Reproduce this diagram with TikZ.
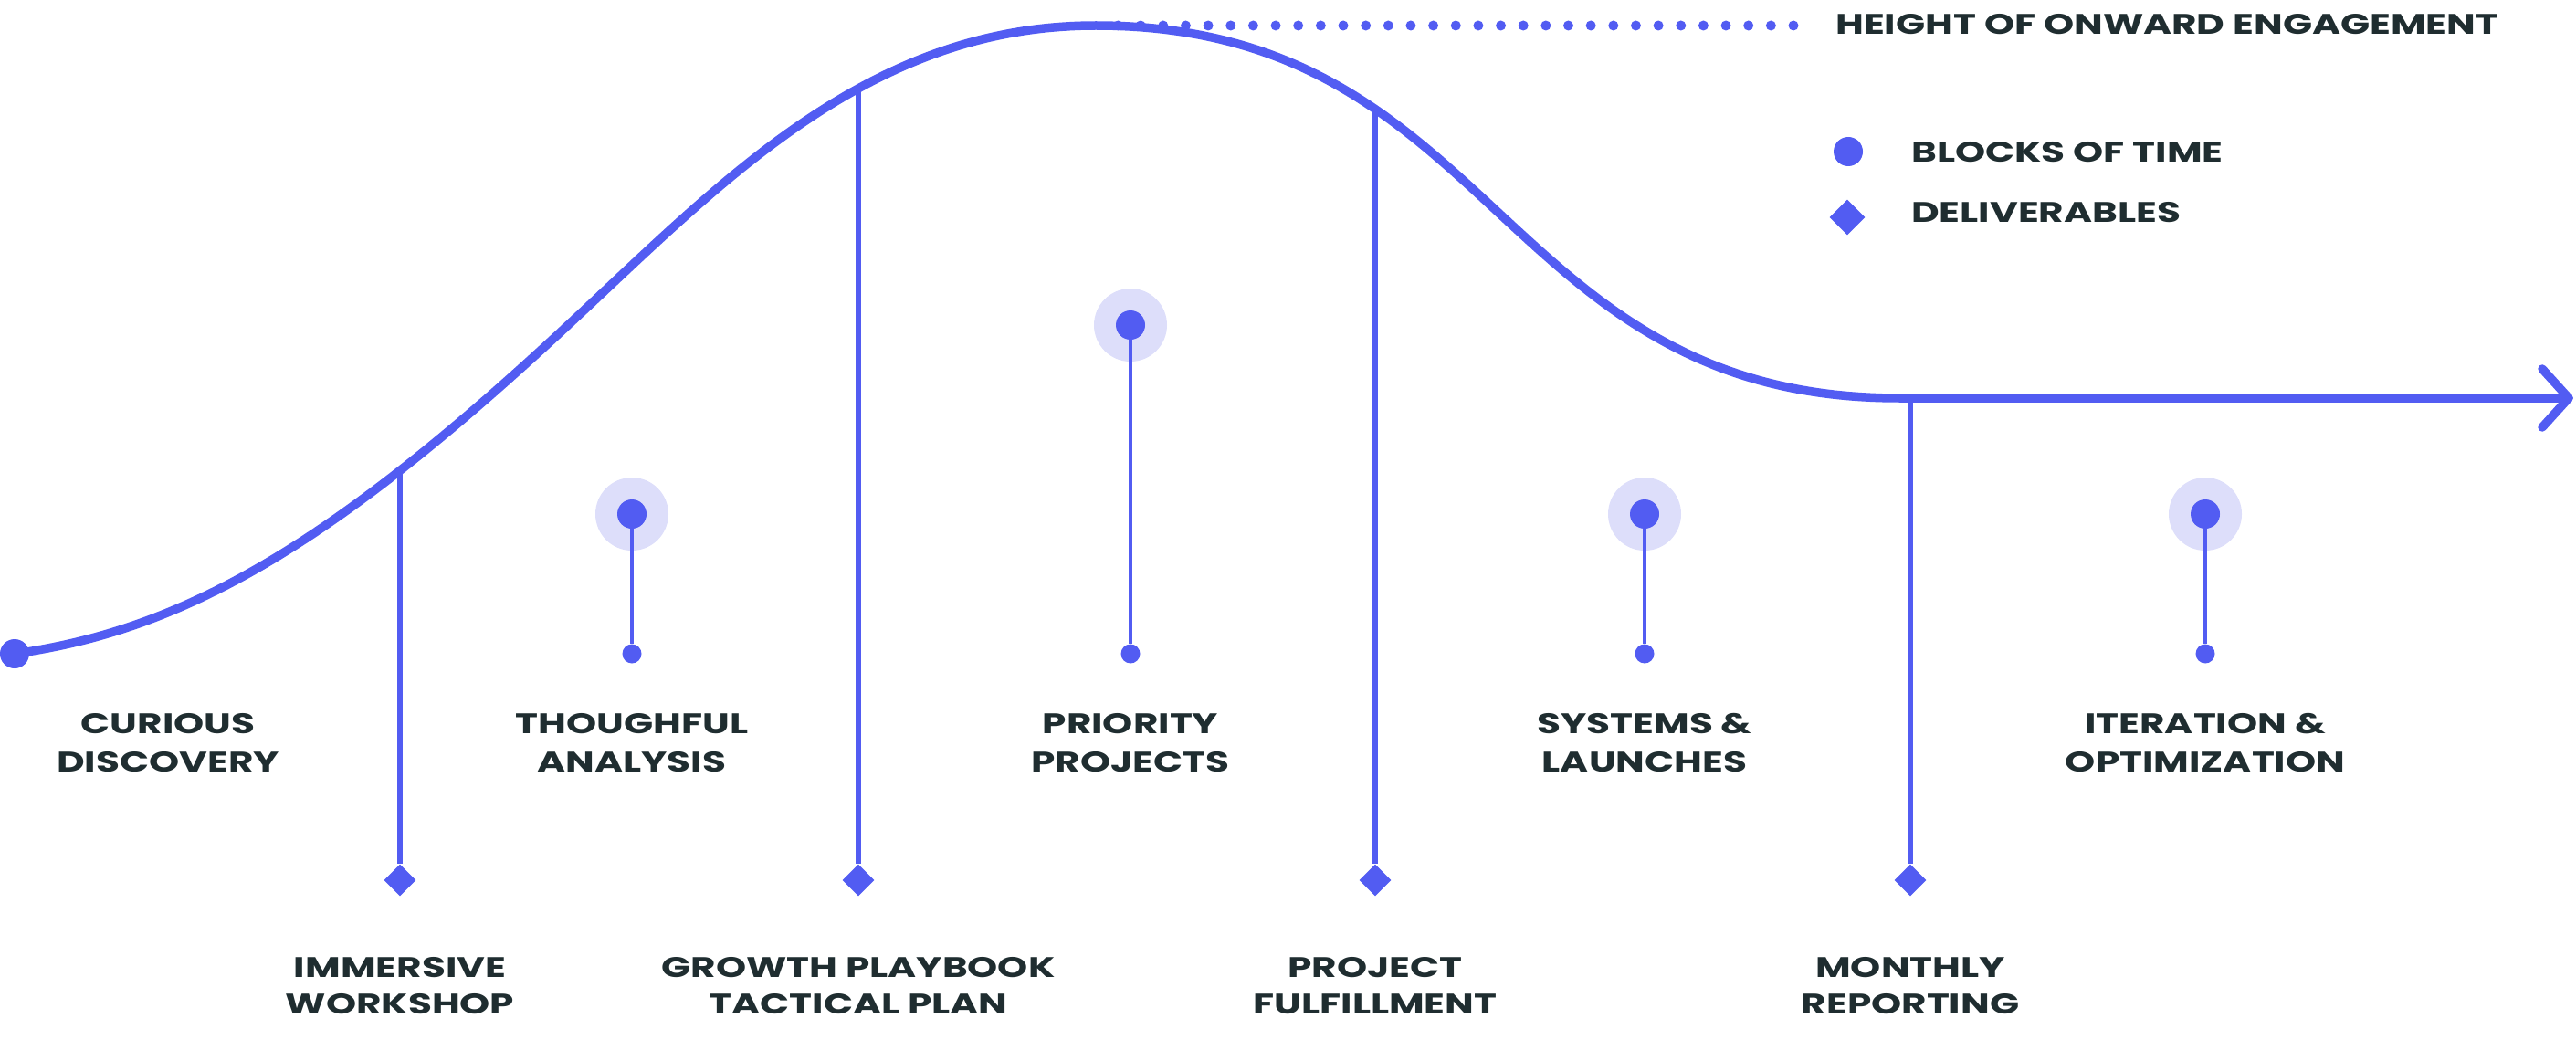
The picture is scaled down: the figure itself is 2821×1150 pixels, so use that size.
\documentclass[tikz,border=0pt]{standalone}
\usepackage{fontspec}
\setmainfont{Poppins}[FakeStretch=1.36]
\usepackage{tikz}
\usetikzlibrary{shapes.geometric}

\definecolor{curveblue}{RGB}{82,92,242}
\definecolor{halolav}{RGB}{221,222,250}
\definecolor{ink}{RGB}{31,45,48}

\tikzset{
	curve/.style={draw=curveblue, line width=9.5pt, line cap=round, line join=round},
	heightdots/.style={draw=curveblue, line width=11pt, line cap=round, dash pattern=on 0pt off 24.65pt},
	deliverline/.style={draw=curveblue, line width=5.5pt},
	blockline/.style={draw=curveblue, line width=4.5pt},
	halo/.style={circle, fill=halolav, minimum size=80pt, inner sep=0pt},
	blockdot/.style={circle, fill=curveblue, minimum size=32pt, inner sep=0pt},
	enddot/.style={circle, fill=curveblue, minimum size=21pt, inner sep=0pt},
	deliverable/.style={diamond, fill=curveblue, minimum size=35pt, inner sep=0pt},
	phase/.style={font=\fontsize{31}{42}\selectfont\bfseries, text=ink, align=center, inner sep=0pt},
	outcome/.style={font=\fontsize{31}{40}\selectfont\bfseries, text=ink, align=center, inner sep=0pt},
	keytext/.style={font=\fontsize{31}{40}\selectfont\bfseries, text=ink, anchor=west, inner sep=0pt}
}

\begin{document}
\begin{tikzpicture}[x=1pt,y=-1pt]

	\useasboundingbox (0,0) rectangle (2821,1150);

	\coordinate (start) at (16,716);
	\coordinate (peak) at (1200,28);
	\coordinate (settle) at (2080,436);
	\coordinate (tip) at (2813,436);
	\coordinate (dotend) at (1964,28);

	% height of engagement
	\draw[heightdots] (dotend) -- (peak);
	\node[keytext] (height) at (2010,27) {HEIGHT OF ONWARD ENGAGEMENT};

	% deliverables hang from the curve
	\coordinate (immersivetop) at (438,515);
	\coordinate (playbooktop) at (940,97);
	\coordinate (fulfiltop) at (1506,120);
	\coordinate (reportingtop) at (2092,436);

	\node[deliverable] (immersive) at (438,964) {};
	\node[deliverable] (playbook) at (940,964) {};
	\node[deliverable] (fulfil) at (1506,964) {};
	\node[deliverable] (reporting) at (2092,964) {};

	\draw[deliverline] (immersivetop) -- (immersive);
	\draw[deliverline] (playbooktop) -- (playbook);
	\draw[deliverline] (fulfiltop) -- (fulfil);
	\draw[deliverline] (reportingtop) -- (reporting);

	% the curve
	\draw[curve] (start) .. controls (200,690) and (360,600) .. (620,358)
		.. controls (790,200) and (950,28) .. (peak)
		.. controls (1640,28) and (1640,436) .. (settle) -- (tip);
	\draw[curve] (2784,404) -- (tip) -- (2784,468);
	\node[blockdot] (origin) at (start) {};

	% blocks of time
	\node[halo] at (692,563) {};
	\node[blockdot] (thoughtful) at (692,563) {};
	\node[enddot] (thoughtfulend) at (692,716) {};
	\draw[blockline] (thoughtful) -- (thoughtfulend);

	\node[halo] at (1238,356) {};
	\node[blockdot] (priority) at (1238,356) {};
	\node[enddot] (priorityend) at (1238,716) {};
	\draw[blockline] (priority) -- (priorityend);

	\node[halo] at (1801,563) {};
	\node[blockdot] (systems) at (1801,563) {};
	\node[enddot] (systemsend) at (1801,716) {};
	\draw[blockline] (systems) -- (systemsend);

	\node[halo] at (2415,563) {};
	\node[blockdot] (iteration) at (2415,563) {};
	\node[enddot] (iterationend) at (2415,716) {};
	\draw[blockline] (iteration) -- (iterationend);

	% phase labels
	\node[phase] (curiouslabel) at (184,814) {CURIOUS\\DISCOVERY};
	\node[phase] (thoughtfullabel) at (692,814) {THOUGHFUL\\ANALYSIS};
	\node[phase] (prioritylabel) at (1238,814) {PRIORITY\\PROJECTS};
	\node[phase] (systemslabel) at (1801,814) {SYSTEMS \&\\LAUNCHES};
	\node[phase] (iterationlabel) at (2415,814) {ITERATION \&\\OPTIMIZATION};

	\node[outcome] (immersivelabel) at (438,1080) {IMMERSIVE\\WORKSHOP};
	\node[outcome] (playbooklabel) at (940,1080) {GROWTH PLAYBOOK\\TACTICAL PLAN};
	\node[outcome] (fulfillabel) at (1506,1080) {PROJECT\\FULFILLMENT};
	\node[outcome] (reportinglabel) at (2092,1080) {MONTHLY\\REPORTING};

	% key
	\node[blockdot] (keydot) at (2024,166) {};
	\node[deliverable, minimum size=39pt] (keydiamond) at (2023,238) {};
	\node[keytext] (keytime) at (2093,167) {BLOCKS OF TIME};
	\node[keytext] (keydeliver) at (2093,233) {DELIVERABLES};

\end{tikzpicture}
\end{document}
